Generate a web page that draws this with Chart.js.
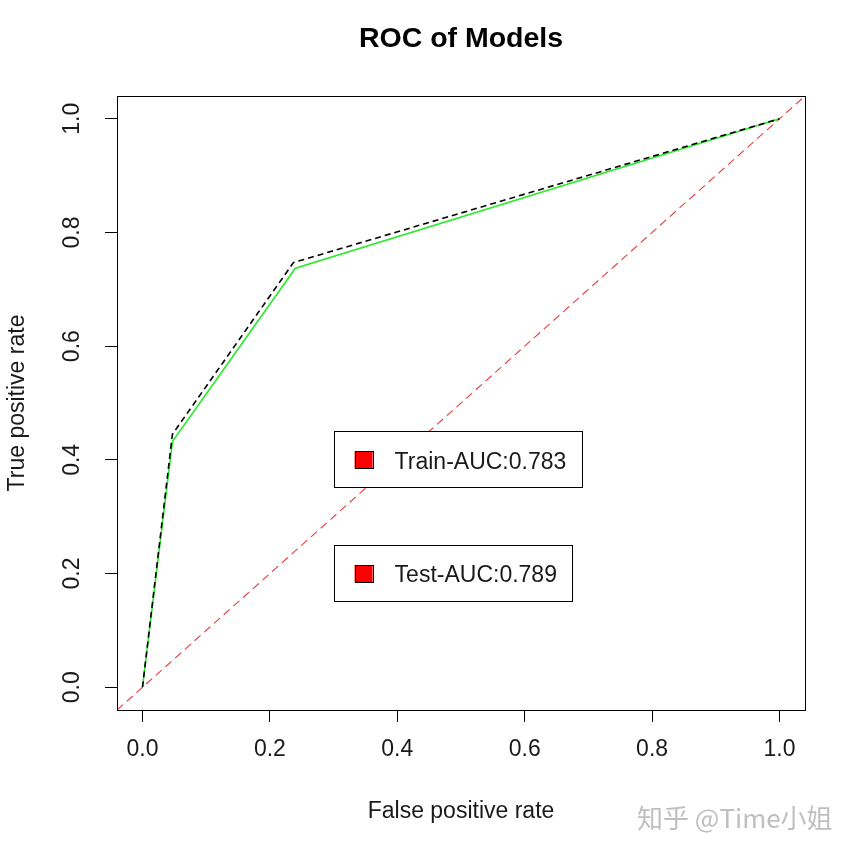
<!DOCTYPE html>
<html>
<head>
<meta charset="utf-8">
<script src="https://cdn.jsdelivr.net/npm/chart.js@4/dist/chart.umd.min.js"></script>
<style>
html,body{margin:0;padding:0;background:#fff;}
#wrap{width:852px;height:852px;}
</style>
</head>
<body>
<div id="wrap"><canvas id="c" width="852" height="852"></canvas></div>
<script>
// ---- data ----
const trainFPR = [0, 0.047, 0.237, 1];
const trainTPR = [0, 0.445, 0.747, 1];
const testFPR  = [0, 0.047, 0.240, 1];
const testTPR  = [0, 0.432, 0.737, 1];
const diagX    = [-0.04, 1.04];
const diagY    = [-0.04, 1.04];
const tickVals = [0, 0.2, 0.4, 0.6, 0.8, 1.0];
const legendLabels = ['Train-AUC:0.783', 'Test-AUC:0.789'];
const legendAnchorX = [0.3, 0.3];
const legendAnchorY = [0.45, 0.25];
const titleText = 'ROC of Models';
const xTitle = 'False positive rate';
const yTitle = 'True positive rate';
const watermark = '知乎 @Time小姐';

const FONT = '"Liberation Sans", Arial, sans-serif';
const pts = (xs, ys) => xs.map((x, i) => ({x: x, y: ys[i]}));

const decor = {
  id: 'decor',
  afterDatasetsDraw(chart) {
    const ctx = chart.ctx;
    const xs = chart.scales.x, ys = chart.scales.y;
    ctx.save();
    ctx.font = '23px ' + FONT;
    legendLabels.forEach((lab, i) => {
      const bx = xs.getPixelForValue(legendAnchorX[i]);
      const by = ys.getPixelForValue(legendAnchorY[i]);
      const tw = ctx.measureText(lab).width;
      const bw = 21 + 18 + 22 + tw + 15;
      const bh = 56;
      ctx.fillStyle = '#fff';
      ctx.fillRect(bx, by, bw, bh);
      ctx.strokeStyle = '#000';
      ctx.lineWidth = 1;
      ctx.strokeRect(Math.round(bx) + 0.5, Math.round(by) + 0.5, Math.round(bw), bh);
      ctx.fillStyle = '#ff0000';
      ctx.fillRect(bx + 21, by + 20, 18, 17);
      ctx.strokeRect(Math.round(bx + 21) + 0.5, Math.round(by + 20) + 0.5, 18, 17);
      ctx.fillStyle = '#1a1a1a';
      ctx.textAlign = 'left';
      ctx.textBaseline = 'middle';
      ctx.fillText(lab, bx + 61, by + 31);
    });
    ctx.restore();
  },
  afterDraw(chart) {
    const ctx = chart.ctx;
    const ys = chart.scales.y;
    const a = chart.chartArea;
    ctx.save();
    ctx.strokeStyle = '#000';
    ctx.lineWidth = 1;
    ctx.strokeRect(Math.round(a.left) + 0.5, Math.round(a.top) + 0.5,
                   Math.round(a.right - a.left), Math.round(a.bottom - a.top));
    const cx = (a.left + a.right) / 2;
    ctx.fillStyle = '#000';
    ctx.textAlign = 'center';
    ctx.textBaseline = 'middle';
    ctx.font = 'bold 28.5px ' + FONT;
    ctx.fillText(titleText, cx, 39);
    ctx.fillStyle = '#1a1a1a';
    ctx.font = '23px ' + FONT;
    ctx.fillText(xTitle, cx, 812);
    ctx.save();
    ctx.translate(18, (a.top + a.bottom) / 2);
    ctx.rotate(-Math.PI / 2);
    ctx.fillText(yTitle, 0, 0);
    ctx.restore();
    ys.ticks.forEach(t => {
      const py = ys.getPixelForValue(t.value);
      ctx.save();
      ctx.translate(73, py);
      ctx.rotate(-Math.PI / 2);
      ctx.fillText(t.value.toFixed(1), 0, 0);
      ctx.restore();
    });
    ctx.font = '26px "Noto Sans CJK SC", sans-serif';
    ctx.fillStyle = 'rgba(170,170,170,0.75)';
    ctx.textAlign = 'left';
    ctx.fillText(watermark, 637, 818);
    ctx.restore();
  }
};

const axisCommon = {
  type: 'linear',
  min: -0.04,
  max: 1.04,
  afterBuildTicks: s => { s.ticks = tickVals.map(v => ({value: v})); },
  grid: { display: true, drawOnChartArea: false, drawTicks: true, tickLength: 12, color: '#000', lineWidth: 1 },
  border: { display: true, color: '#000', width: 1 },
};

new Chart(document.getElementById('c'), {
  type: 'line',
  data: {
    datasets: [
      { label: 'train', data: pts(trainFPR, trainTPR), borderColor: '#000', borderWidth: 1.6,
        borderDash: [6, 4], pointRadius: 0, tension: 0, fill: false },
      { label: 'test', data: pts(testFPR, testTPR), borderColor: 'rgb(40,235,40)', borderWidth: 1.6,
        pointRadius: 0, tension: 0, fill: false },
      { label: 'diag', data: pts(diagX, diagY), borderColor: 'rgb(232,60,60)', borderWidth: 1.1,
        borderDash: [8, 5], pointRadius: 0, tension: 0, fill: false }
    ]
  },
  options: {
    responsive: false,
    animation: false,
    devicePixelRatio: 1,
    layout: { padding: { left: 0, top: 96, right: 47, bottom: 0 } },
    plugins: { legend: { display: false }, title: { display: false }, tooltip: { enabled: false } },
    scales: {
      x: Object.assign({}, axisCommon, {
        afterFit: s => { s.height = 142; },
        ticks: { color: '#1a1a1a', font: { family: FONT, size: 23 }, padding: 14,
                 maxRotation: 0, autoSkip: false, callback: v => Number(v).toFixed(1) }
      }),
      y: Object.assign({}, axisCommon, {
        afterFit: s => { s.width = 117; },
        ticks: { color: 'rgba(0,0,0,0)', font: { family: FONT, size: 23 }, padding: 14,
                 autoSkip: false, callback: v => Number(v).toFixed(1) }
      })
    }
  },
  plugins: [decor]
});
</script>
</body>
</html>
